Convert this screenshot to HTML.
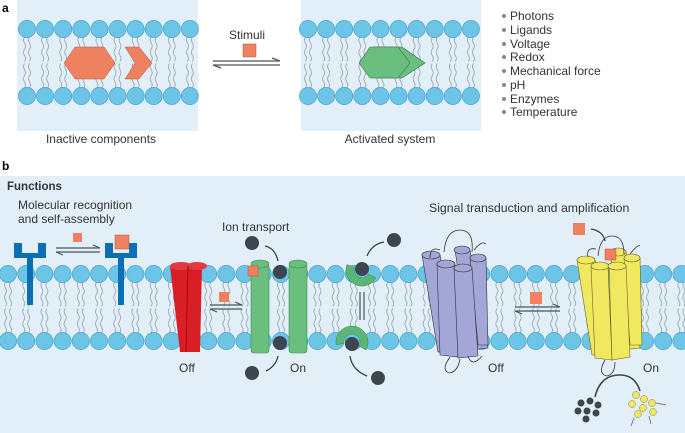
<!DOCTYPE html>
<html><head><meta charset="utf-8"><style>
body{margin:0;background:#fff}
svg{display:block;font-family:"Liberation Sans",sans-serif}
</style></head><body>
<svg id="s" width="685" height="433" viewBox="0 0 685 433" xmlns="http://www.w3.org/2000/svg">
<rect x="17" y="0" width="181" height="131" fill="#e2eff9"/>
<rect x="301" y="0" width="180" height="131" fill="#e2eff9"/>
<rect x="0" y="176" width="685" height="257" fill="#e2eff9"/>
<g id="mem"></g>
<!-- panel a -->
<text x="2" y="12" font-size="12" font-weight="bold">a</text>
<polygon points="64,63 75,47 104,47 115,63 104,79 75,79" fill="#ef8060" stroke="#b55a40" stroke-width="0.5"/>
<polygon points="125,47 139,47 152,63 139,79 125,79 135,63" fill="#ef8060" stroke="#b55a40" stroke-width="0.5"/>
<polygon points="374,47 402,47 425,63 402,78 374,78 393,63" fill="#6abf7f" stroke="#2f6f40" stroke-width="0.6"/>
<polygon points="359,63 370,47 398,47 410,63 398,78 370,78" fill="#6abf7f" stroke="#2f6f40" stroke-width="0.6"/>
<text x="229" y="39" font-size="12" fill="#333">Stimuli</text>
<rect x="243" y="44" width="13" height="13" fill="#ef8060" stroke="#b55a40" stroke-width="0.5"/>
<path d="M213 61 H280 M213 65 H280" stroke="#4a5560" stroke-width="1.3"/>
<path d="M280 61 l-8 -3 M213 65 l8 3" stroke="#4a5560" stroke-width="1.3"/>
<text x="101" y="143" font-size="12" fill="#333" text-anchor="middle">Inactive components</text>
<text x="390" y="143" font-size="12" fill="#333" text-anchor="middle">Activated system</text>
<g font-size="12" fill="#333">
<text x="510" y="20">Photons</text><text x="510" y="34">Ligands</text><text x="510" y="48">Voltage</text><text x="510" y="61">Redox</text><text x="510" y="75">Mechanical force</text><text x="510" y="89">pH</text><text x="510" y="103">Enzymes</text><text x="510" y="116">Temperature</text>
</g>
<g fill="#888"><circle cx="504" cy="16" r="2"/><circle cx="504" cy="30" r="2"/><circle cx="504" cy="44" r="2"/><circle cx="504" cy="57" r="2"/><circle cx="504" cy="71" r="2"/><circle cx="504" cy="85" r="2"/><circle cx="504" cy="99" r="2"/><circle cx="504" cy="112" r="2"/></g>
<!-- panel b -->
<text x="2" y="170" font-size="12" font-weight="bold">b</text>
<text x="7" y="190" font-size="11.5" font-weight="bold" fill="#333">Functions</text>
<text x="18" y="209" font-size="12" fill="#333">Molecular recognition</text>
<text x="18" y="223" font-size="12" fill="#333">and self-assembly</text>
<text x="222" y="231" font-size="12" fill="#333">Ion transport</text>
<text x="429" y="212" font-size="12.3" fill="#333">Signal transduction and amplification</text>
<g fill="#0a6fb5">
<path d="M14 243h8v10h16v-10h8v15h-13v47h-6v-47h-13z"/>
<path d="M105 243h8v10h16v-10h8v15h-13v47h-6v-47h-13z"/>
</g>
<rect x="73" y="233" width="9" height="9" fill="#ef8060"/>
<rect x="115" y="235" width="14" height="14" fill="#ef8060" stroke="#b55a40" stroke-width="0.5"/>
<path d="M56 248H100M56 252H100M100 248l-7-3M56 252l7 3" stroke="#4a5560" stroke-width="1.2" fill="none"/>
<!-- red channel -->
<path d="M170 266 L180 352 L200 352 L202 266 Z" fill="#d81e26"/>
<ellipse cx="181" cy="266" rx="11" ry="4" fill="#e33a3f"/><ellipse cx="197" cy="266" rx="10" ry="4" fill="#e33a3f"/>
<path d="M188 266 L186 352" stroke="#900" stroke-width="0.8"/>
<text x="179" y="372" font-size="12" fill="#333">Off</text>
<rect x="219" y="292" width="10" height="10" fill="#ef8060"/>
<path d="M210 305H242M210 309H242M242 305l-7-3M210 309l7 3" stroke="#4a5560" stroke-width="1.2" fill="none"/>
<!-- green channel -->
<g fill="#6abf7f" stroke="#3d8a52" stroke-width="0.6">
<rect x="251" y="264" width="18" height="89" rx="3"/><ellipse cx="260" cy="264" rx="9" ry="4"/>
<rect x="289" y="264" width="18" height="89" rx="3"/><ellipse cx="298" cy="264" rx="9" ry="4"/>
</g>
<rect x="248" y="266" width="10" height="10" fill="#ef8060" stroke="#b55a40" stroke-width="0.5"/>
<text x="290" y="372" font-size="12" fill="#333">On</text>
<path d="M347 264.5 A16 16 0 0 0 375.9 278 L368.9 274 A8 8 0 0 1 354.5 267.3 Z" fill="#5bb574" stroke="#3d8a52" stroke-width="0.5"/>
<path d="M336.2 344.8 A16 16 0 1 1 365.9 350 L358.9 346 A8 8 0 1 0 344.1 343.4 Z" fill="#5bb574" stroke="#3d8a52" stroke-width="0.5"/>
<g fill="#3d4650">
<circle cx="252" cy="243" r="7"/><circle cx="280" cy="272" r="7"/><circle cx="280" cy="343" r="7"/><circle cx="252" cy="373" r="7"/>
<circle cx="394" cy="240" r="7"/><circle cx="362" cy="269" r="7"/><circle cx="352" cy="344" r="7"/><circle cx="378" cy="378" r="7"/>
</g>
<path d="M265 246q10 2 13 15M278 356q-2 10-12 15M384 242q-12 2-17 14M350 356q2 14 17 20" stroke="#3d4650" stroke-width="1.3" fill="none"/>
<path d="M360 292V320M364 292V320" stroke="#4a5560" stroke-width="1.2"/>
<!-- purple bundle -->
<g fill="#a3a6d6" stroke="#333" stroke-width="0.6">
<path d="M422 255 L438 352 L458 350 L440 255Z"/><ellipse cx="431" cy="255" rx="9" ry="4"/>
<path d="M455 250 L470 350 L488 348 L470 250Z"/><ellipse cx="462" cy="250" rx="8" ry="4"/>
<path d="M470 258 L478 345 L488 345 L486 258Z"/><ellipse cx="478" cy="258" rx="8" ry="4"/>
<path d="M437 264 L440 355 L458 357 L455 264Z"/><ellipse cx="446" cy="264" rx="9" ry="4"/>
<path d="M454 268 L458 358 L478 356 L472 268Z"/><ellipse cx="463" cy="268" rx="9" ry="4"/>
</g>
<path d="M444 252 q2 -22 16 -22 q14 0 12 22 M430 258q0-12 10-8 M474 250q8-10 12-6M450 357q-10 14 0 16q8-2 10-14M468 356q4 12 14 0" stroke="#333" stroke-width="0.8" fill="none"/>
<text x="488" y="372" font-size="12" fill="#333">Off</text>
<rect x="530" y="292" width="12" height="12" fill="#ef8060"/>
<path d="M515 307H560M515 311H560M560 307l-7-3M515 311l7 3" stroke="#4a5560" stroke-width="1.2" fill="none"/>
<!-- yellow bundle -->
<g fill="#f0e85f" stroke="#6a6320" stroke-width="0.6">
<path d="M577 260 L592 355 L612 355 L595 260Z"/><ellipse cx="586" cy="260" rx="9" ry="4"/>
<path d="M610 252 L622 350 L640 348 L626 252Z"/><ellipse cx="618" cy="252" rx="8" ry="4"/>
<path d="M624 258 L630 345 L642 345 L640 258Z"/><ellipse cx="632" cy="258" rx="8" ry="4"/>
<path d="M591 266 L595 358 L612 360 L608 266Z"/><ellipse cx="600" cy="266" rx="9" ry="4"/>
<path d="M609 266 L612 360 L630 357 L626 266Z"/><ellipse cx="617" cy="266" rx="9" ry="4"/>
</g>
<rect x="605" y="249" width="11" height="11" fill="#ef8060" stroke="#b55a40" stroke-width="0.5"/>
<rect x="573" y="223" width="12" height="12" fill="#ef8060"/>
<path d="M591 229q12 2 14 12" stroke="#3d4650" stroke-width="1.3" fill="none"/>
<path d="M598 256q2 -20 14 -20q12 0 12 18M588 257q-2-10 8-8M630 254q8-10 10-8M605 360q-8 14 2 16q8-2 8-14" stroke="#333" stroke-width="0.8" fill="none"/>
<text x="643" y="372" font-size="12" fill="#333">On</text>
<path d="M595 397q5-22 25-22q15 0 20 16" stroke="#3d4650" stroke-width="1.6" fill="none"/>
<g fill="#3d4650"><circle cx="581" cy="403" r="3.5"/><circle cx="590" cy="401" r="3.5"/><circle cx="598" cy="405" r="3.5"/><circle cx="578" cy="411" r="3.5"/><circle cx="587" cy="411" r="3.5"/><circle cx="596" cy="413" r="3.5"/><circle cx="586" cy="419" r="3.5"/></g>
<g fill="#f0e85f" stroke="#8a8030" stroke-width="0.5"><circle cx="636" cy="395" r="3.5"/><circle cx="644" cy="399" r="3.5"/><circle cx="652" cy="403" r="3.5"/><circle cx="632" cy="404" r="3.5"/><circle cx="643" cy="408" r="3.5"/><circle cx="653" cy="412" r="3.5"/><circle cx="638" cy="414" r="3.5"/></g>
<path d="M656 403l10 2M634 418l-3 8M649 416l2 8" stroke="#555" stroke-width="0.7"/>
</svg>
<script>
const NS="http://www.w3.org/2000/svg",g=document.getElementById("mem");
function el(t,a){const e=document.createElementNS(NS,t);for(const k in a)e.setAttribute(k,a[k]);g.appendChild(e);}
function tail(x,y1,y2){let d="M"+x+" "+y1;const n=4,h=(y2-y1)/n;for(let i=0;i<n;i++){d+=" q"+(i%2?2:-2)+" "+h/2+" 0 "+h;}el("path",{d:d,stroke:"#9ea8b0","stroke-width":"0.9",fill:"none"});}
function mem(x0,n,sp,yt,yb){const mid=(yt+yb)/2;for(let i=0;i<n;i++){const x=x0+i*sp;tail(x-2.5,yt+8,mid-1);tail(x+2.5,yt+8,mid-1);tail(x-2.5,mid+1,yb-8);tail(x+2.5,mid+1,yb-8);}
for(let i=0;i<n;i++){const x=x0+i*sp;el("circle",{cx:x,cy:yt,r:8.6,fill:"#6cc4e6",stroke:"#3d9cc4","stroke-width":"0.6"});el("circle",{cx:x,cy:yb,r:8.6,fill:"#6cc4e6",stroke:"#3d9cc4","stroke-width":"0.6"});}}
mem(27,10,18.1,29,96);mem(308,10,18.1,29,96);mem(8,38,18.2,274,341);
</script>
</body></html>
